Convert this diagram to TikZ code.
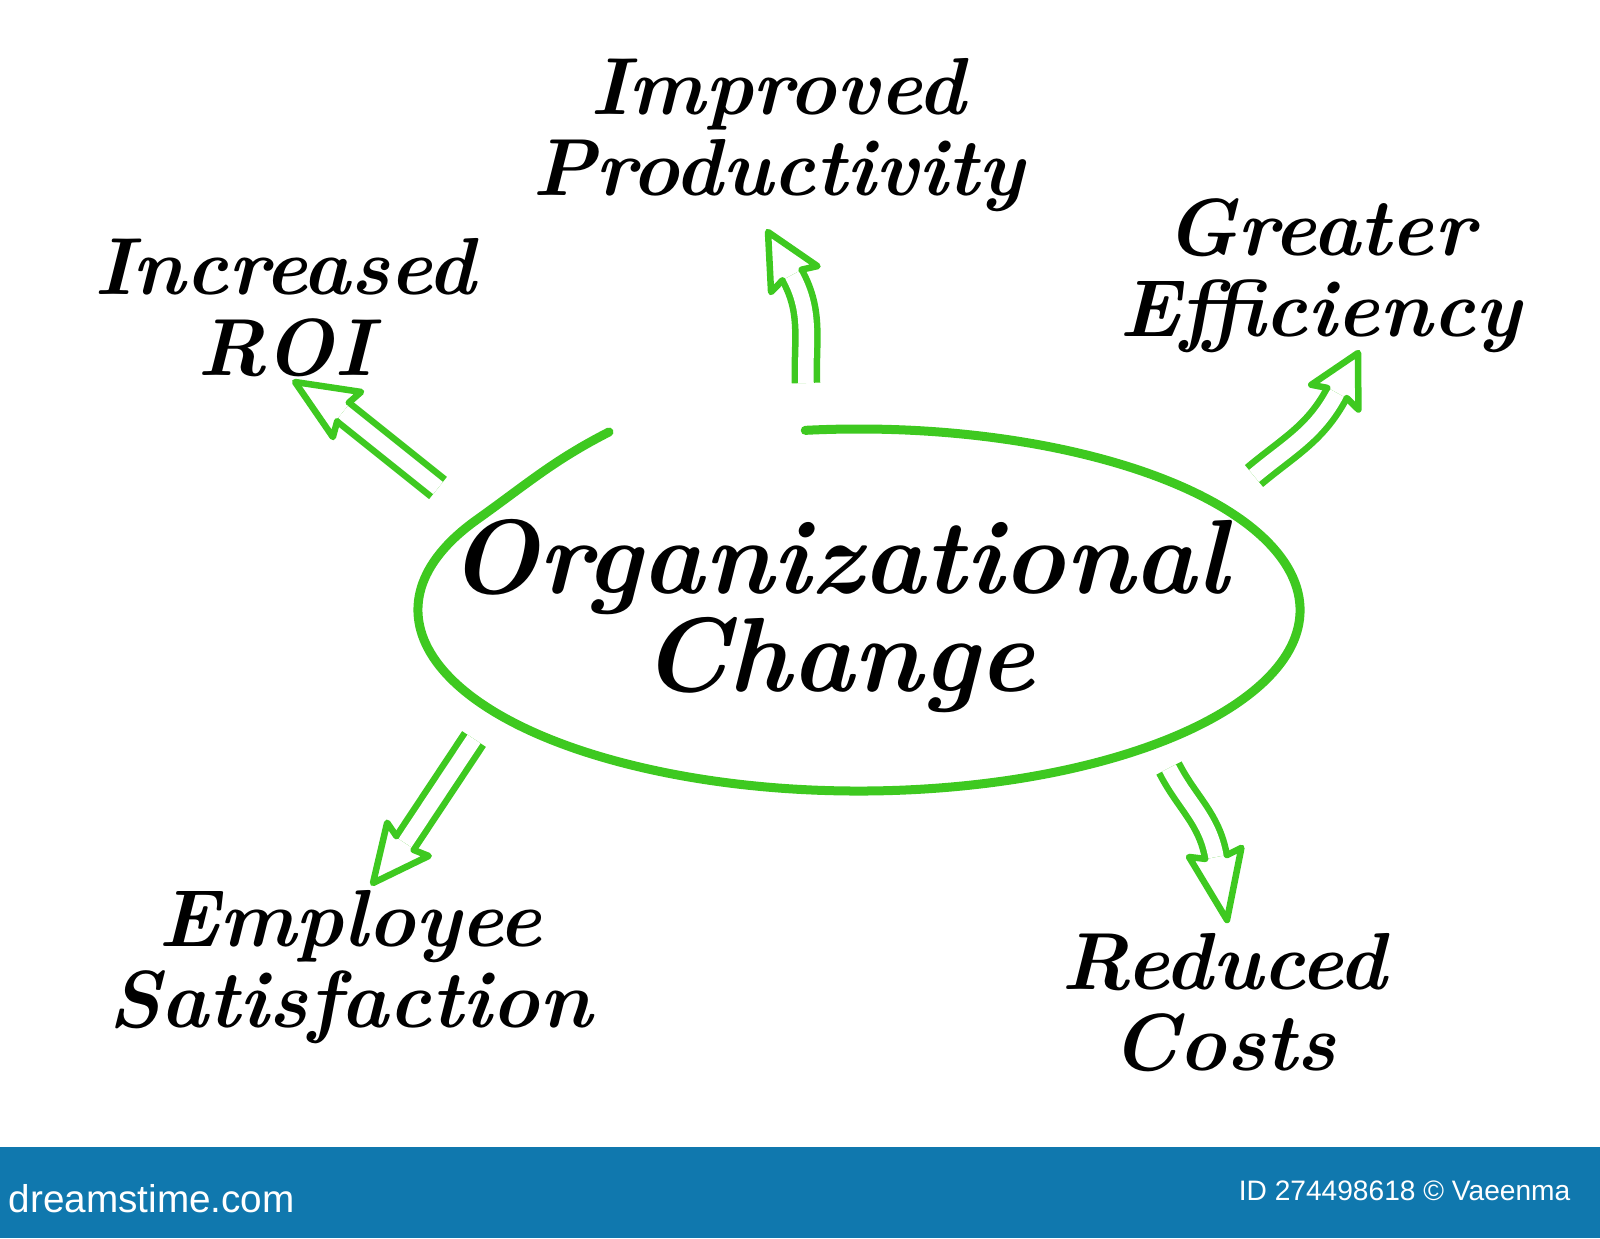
\documentclass[tikz,border=0pt]{standalone}
\usepackage{fontspec}
\newfontfamily\bannerfont{Liberation Sans}
\usetikzlibrary{calc}

\definecolor{leafgreen}{RGB}{62,201,32}
\definecolor{stockblue}{RGB}{16,120,174}
\newcommand\tightlines{\lineskiplimit=-20pt\relax}

\tikzset{
  ovalline/.style={draw=leafgreen, line width=0.09cm, line cap=round},
  shaftline/.style={draw=leafgreen, double=white, double distance=0.155cm, line width=0.065cm},
  headline/.style={draw=leafgreen, line width=0.065cm, line join=round, line cap=round},
  benefit/.style={font=\fontsize{23}{23}\selectfont\bfseries\itshape, align=center, inner sep=0pt},
  centre/.style={font=\fontsize{30}{28}\selectfont\tightlines\bfseries\itshape, align=center, inner sep=0pt},
  banner/.style={text=white, inner sep=0pt}
}

% open arrow head from base #1 to tip #2
\newcommand\openhead[2]{%
  \draw[headline] ($(#1)!0.11cm!90:(#2)$) -- ($(#1)!0.27cm!100:(#2)$) -- (#2)
    -- ($(#1)!0.27cm!-100:(#2)$) -- ($(#1)!0.11cm!-90:(#2)$);}

\begin{document}
\begin{tikzpicture}[x=0.01cm,y=0.01cm]
\useasboundingbox (0,0) rectangle (1600,1238);

% labels
\node[benefit] (prod) at (778,1103) {Improved\\Productivity};
\node[benefit] (roi) at (285,930) {Increased\\ROI};
\node[benefit] (eff) at (1320,962) {Greater\\Efficiency};
\node[benefit] (emp) at (350,271) {Employee\\Satisfaction};
\node[benefit] (cost) at (1224,235) {Reduced\\Costs};
\node[centre] (org) at (838,622) {Organizational\\Change};

% oval round the centre, open at the top
\coordinate (oval) at (859,628);
\coordinate (ovalstart) at (609,806);
\draw[ovalline] (ovalstart) to[out=207, in=35.5] ($(oval)+(150:441 and 181)$)
  arc[start angle=150, end angle=457, x radius=441, y radius=181];

% arrows
\coordinate (roitail) at (438,750);
\coordinate (roibase) at (343,826);
\coordinate (roitip) at (295,856);
\draw[shaftline] (roitail) -- (roibase);
\openhead{roibase}{roitip}

\coordinate (prodtail) at (806,855);
\coordinate (prodbase) at (792,963);
\coordinate (prodtip) at (768,1006);
\draw[shaftline] (prodtail) to[out=92, in=-61] (prodbase);
\openhead{prodbase}{prodtip}

\coordinate (efftail) at (1254,762);
\coordinate (effbase) at (1337,845);
\coordinate (efftip) at (1358,885);
\draw[shaftline] (efftail) to[out=40, in=-118] (effbase);
\openhead{effbase}{efftip}

\coordinate (emptail) at (474,499);
\coordinate (empbase) at (405,395);
\coordinate (emptip) at (373,355);
\draw[shaftline] (emptail) -- (empbase);
\openhead{empbase}{emptip}

\coordinate (costtail) at (1169,470);
\coordinate (costbase) at (1216,381);
\coordinate (costtip) at (1227,318);
\draw[shaftline] (costtail) to[out=-63, in=100] (costbase);
\openhead{costbase}{costtip}

% stock banner
\fill[stockblue] (0,0) rectangle (1600,91);
\node[banner, anchor=west, font=\bannerfont\fontsize{11}{11}\selectfont] (site) at (8,39) {dreamstime.com};
\node[banner, anchor=east, font=\bannerfont\fontsize{8}{9}\selectfont] (credit) at (1571,47) {ID 274498618 © Vaeenma};
\end{tikzpicture}
\end{document}
